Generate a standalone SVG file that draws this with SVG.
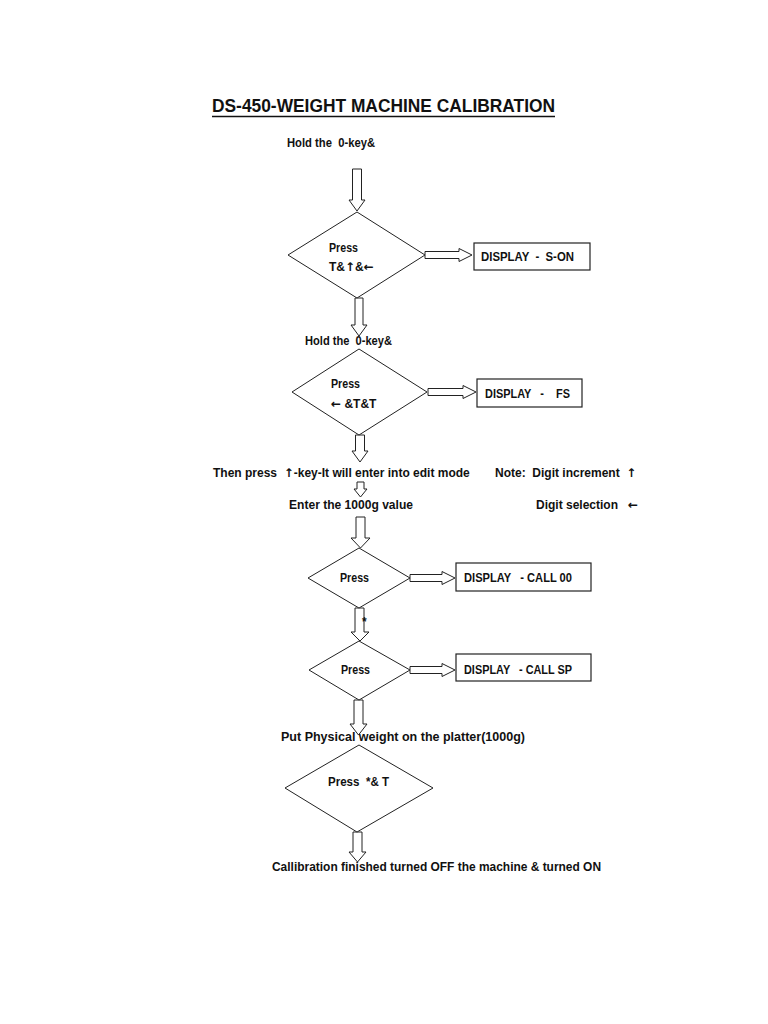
<svg xmlns="http://www.w3.org/2000/svg" width="768" height="1024" viewBox="0 0 768 1024">
<style>
text{font-family:"Liberation Sans",Arial,sans-serif;font-weight:bold;font-size:12px;fill:#111;white-space:pre}
.title{font-size:17.5px}
.ar{font-family:"DejaVu Sans",sans-serif;font-weight:bold;font-size:12px}
.dia{fill:#fff;stroke:#222;stroke-width:1}
.box{fill:#fff;stroke:#222;stroke-width:1.2}
.arr{fill:#fff;stroke:#222;stroke-width:1}
</style>
<rect width="768" height="1024" fill="#fff"/>
<g id="title">
<text class="title" x="212" y="112" textLength="343" lengthAdjust="spacingAndGlyphs">DS-450-WEIGHT MACHINE CALIBRATION</text>
<line x1="212" y1="116.5" x2="555" y2="116.5" stroke="#111" stroke-width="1.5"/>
</g>
<g id="connectors">
<path class="arr" d="M352.5,169H361.5V200H365L357,211L349,200H352.5Z"/>
<path class="arr" d="M355,298H363V325H367L359,336L351,325H355Z"/>
<path class="arr" d="M355.5,435H364.5V451H368L360,462L352,451H355.5Z"/>
<path class="arr" d="M357,482H364V489H367L360.5,497L354,489H357Z"/>
<path class="arr" d="M356,517H365V538H370L360.5,548L351,538H356Z"/>
<path class="arr" d="M355,608H364V632H369L360,641L351,632H355Z"/>
<path class="arr" d="M354,700H363V724H367L358.5,735L350,724H354Z"/>
<path class="arr" d="M353,832H362V852H366L357.5,862L349,852H353Z"/>
<path class="arr" d="M425,251.5H459V248.5L472,255L459,261.5V258.5H425Z"/>
<path class="arr" d="M428,388.5H463V385.5L476,392L463,398.5V395.5H428Z"/>
<path class="arr" d="M410,574.5H442V571.5L455,578L442,584.5V581.5H410Z"/>
<path class="arr" d="M410,666.5H442V663.5L455,670L442,676.5V673.5H410Z"/>
<text x="362" y="626" font-size="11">*</text>
</g>
<g id="start">
<text x="287" y="147" textLength="88" lengthAdjust="spacingAndGlyphs">Hold the  0-key&amp;</text>
</g>
<g id="d1">
<polygon class="dia" points="357,212 425,255 357,298 288,255"/>
<text x="329" y="252" textLength="29" lengthAdjust="spacingAndGlyphs">Press</text>
<text x="329" y="271">T&amp;<tspan class="ar">↑</tspan>&amp;<tspan class="ar">←</tspan></text>
</g>
<g id="b1">
<rect class="box" x="474" y="243" width="116" height="27"/>
<text x="481" y="261" textLength="93" lengthAdjust="spacingAndGlyphs">DISPLAY  -  S-ON</text>
</g>
<g id="hold2">
<text x="305" y="345" textLength="87" lengthAdjust="spacingAndGlyphs">Hold the  0-key&amp;</text>
</g>
<g id="d2">
<polygon class="dia" points="359,349 427,392 359,435 292,392"/>
<text x="331" y="388" textLength="29" lengthAdjust="spacingAndGlyphs">Press</text>
<text x="331" y="408"><tspan class="ar">←</tspan> &amp;T&amp;T</text>
</g>
<g id="b2">
<rect class="box" x="477" y="379" width="105" height="28"/>
<text x="485" y="398" textLength="85" lengthAdjust="spacingAndGlyphs">DISPLAY   -    FS</text>
</g>
<g id="edit">
<text x="213" y="477">Then press  <tspan class="ar">↑</tspan>-key-It will enter into edit mode</text>
<text x="289" y="509" textLength="124" lengthAdjust="spacingAndGlyphs">Enter the 1000g value</text>
</g>
<g id="note">
<text x="495" y="477">Note:  Digit increment  <tspan class="ar">↑</tspan></text>
<text x="536" y="509">Digit selection   <tspan class="ar">←</tspan></text>
</g>
<g id="d3">
<polygon class="dia" points="359,548 410,578 359,608 308,578"/>
<text x="340" y="582" textLength="29" lengthAdjust="spacingAndGlyphs">Press</text>
</g>
<g id="b3">
<rect class="box" x="456" y="563" width="135" height="28"/>
<text x="464" y="582" textLength="108" lengthAdjust="spacingAndGlyphs">DISPLAY   - CALL 00</text>
</g>
<g id="d4">
<polygon class="dia" points="359,641 410,670 359,700 309,670"/>
<text x="341" y="674" textLength="29" lengthAdjust="spacingAndGlyphs">Press</text>
</g>
<g id="b4">
<rect class="box" x="456" y="654" width="135" height="27"/>
<text x="464" y="674" textLength="108" lengthAdjust="spacingAndGlyphs">DISPLAY   - CALL SP</text>
</g>
<g id="weight">
<text x="281" y="741" textLength="244" lengthAdjust="spacingAndGlyphs">Put Physical weight on the platter(1000g)</text>
</g>
<g id="d5">
<polygon class="dia" points="359,745 433,788 357,832 285,788"/>
<text x="328" y="786" textLength="61" lengthAdjust="spacingAndGlyphs">Press  *&amp; T</text>
</g>
<g id="end">
<text x="272" y="871" textLength="329" lengthAdjust="spacingAndGlyphs">Callibration finished turned OFF the machine &amp; turned ON</text>
</g>
</svg>
